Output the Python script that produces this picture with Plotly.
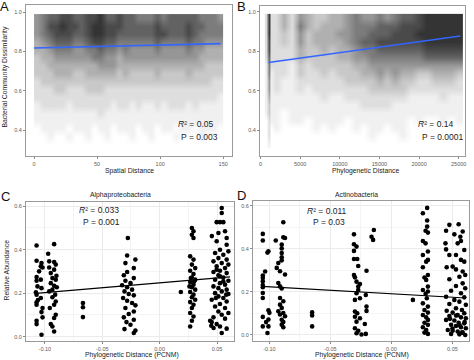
import plotly.graph_objects as go

W, H = 474, 360

# ---------------- Panel A: spatial distance vs dissimilarity (point density, 0-9) -------------
A_x_bins = [2.5, 7.5, 12.5, 17.5, 22.5, 27.5, 32.5, 37.5, 42.5, 47.5,
            52.5, 57.5, 62.5, 67.5, 72.5, 77.5, 82.5, 87.5, 92.5, 97.5,
            102.5, 107.5, 112.5, 117.5, 122.5, 127.5, 132.5, 137.5, 142.5, 147.5]
A_y_bins = [0.97, 0.93, 0.89, 0.85, 0.81, 0.77, 0.73, 0.69, 0.65,
            0.61, 0.57, 0.53, 0.49, 0.45, 0.41, 0.37, 0.33]
A_density = [
    "56778 87788 97787 76667 67777 76665",
    "56889 88789 98887 77778 77778 77666",
    "56788 87789 98877 77778 87778 76666",
    "45677 76678 87766 66667 66667 66555",
    "44566 65566 76656 55556 55556 55444",
    "34455 55556 65545 55555 55555 54444",
    "33444 44444 55544 44444 44444 44333",
    "33344 43344 44434 33334 33334 33333",
    "23333 33333 33333 33333 33333 33322",
    "22233 22233 32222 22222 22222 22222",
    "22222 22222 22222 22222 22222 22221",
    "12222 12222 22122 12112 12221 21111",
    "11111 11111 21111 11111 11111 11111",
    "11111 11111 11111 11111 11111 11111",
    "01111 01110 11011 10110 11011 01110",
    "00100 10010 01000 10010 00100 01000",
    "00000 00000 00000 00000 00000 00000",
]
A_fit_x = [0, 148]
A_fit_y = [0.818, 0.840]

# ---------------- Panel B: phylogenetic distance vs dissimilarity -------------
B_x_bins = [700, 1000, 1300, 2000, 3000, 4000, 5000, 6000, 7000, 8000, 9000, 10000,
            11000, 12000, 13000, 14000, 15000, 16000, 17000, 18000, 19000, 20000,
            21000, 22000, 23000, 24000, 25000]
B_y_bins = A_y_bins
B_density = [
    "292 2425 43344 56556 56778 99999",
    "292 2426 43444 56667 77888 99999",
    "292 2325 34445 56677 78889 99999",
    "282 2325 34444 56778 88888 99999",
    "282 2224 33434 45667 77777 88888",
    "272 2224 33334 45566 66666 77777",
    "162 2213 23333 34455 55555 55555",
    "161 2213 22323 33445 45443 34443",
    "151 2112 22222 33334 34332 23332",
    "151 2112 12222 22233 33322 22222",
    "141 1111 11211 22222 22211 11211",
    "131 1111 11111 11222 21111 11111",
    "131 1011 11111 11111 11111 11111",
    "021 1011 01111 01111 11101 00101",
    "020 1000 01010 01011 01100 00000",
    "020 0000 00000 00010 00100 00000",
    "010 0000 00000 00000 00000 00000",
]
B_fit_x = [1000, 25200]
B_fit_y = [0.744, 0.878]

# ---------------- Panel C: Alphaproteobacteria -------------
C_x = [
    -0.1072, -0.1072, -0.1029, -0.1035, -0.1020, -0.1072, -0.1035, -0.1072, -0.1064, -0.1029,
    -0.1078, -0.1072, -0.1035, -0.1072, -0.1072, -0.1020, -0.1029, -0.1020, -0.1072, -0.1072,
    -0.1029, -0.1050, -0.1060,
    -0.0919, -0.0971, -0.0962, -0.0919, -0.0905, -0.0962, -0.0919, -0.0948, -0.0899, -0.0934,
    -0.0905, -0.0948, -0.0919, -0.0896, -0.0934, -0.0962, -0.0910, -0.0934, -0.0905, -0.0919,
    -0.0957, -0.0905, -0.0919, -0.0948, -0.0934, -0.0919,
    -0.0668, -0.0668, -0.0668,
    -0.0277, -0.0283, -0.0211, -0.0298, -0.0225, -0.0283, -0.0312, -0.0225, -0.0298, -0.0254,
    -0.0327, -0.0283, -0.0240, -0.0306, -0.0269, -0.0225, -0.0318, -0.0283, -0.0240, -0.0211,
    -0.0298, -0.0225, -0.0269, -0.0312, -0.0225, -0.0289, -0.0254, -0.0306, -0.0211, -0.0225,
    0.0185,
    0.0281, 0.0295, 0.0281, 0.0295, 0.0266, 0.0295, 0.0281, 0.0310, 0.0266, 0.0295,
    0.0281, 0.0310, 0.0266, 0.0295, 0.0281, 0.0310, 0.0266, 0.0295, 0.0281, 0.0310,
    0.0266, 0.0295, 0.0281, 0.0266, 0.0295, 0.0281, 0.0266, 0.0272, 0.0301, 0.0260,
    0.0541, 0.0541, 0.0497, 0.0526, 0.0555, 0.0570, 0.0512, 0.0584, 0.0497, 0.0584,
    0.0526, 0.0599, 0.0483, 0.0555, 0.0512, 0.0584, 0.0469, 0.0541, 0.0599, 0.0497,
    0.0570, 0.0526, 0.0469, 0.0584, 0.0512, 0.0555, 0.0483, 0.0599, 0.0526, 0.0570,
    0.0469, 0.0512, 0.0584, 0.0541, 0.0483, 0.0599, 0.0512, 0.0555, 0.0454, 0.0584,
    0.0526, 0.0483, 0.0570, 0.0512, 0.0599, 0.0541, 0.0469, 0.0570, 0.0454, 0.0497,
    0.0526, 0.0584, 0.0440, 0.0541, 0.0497, 0.0555, 0.0526, 0.0580, 0.0490, 0.0455,
    0.0450, 0.0470,
]
C_y = [
    0.419, 0.349, 0.338, 0.323, 0.318, 0.274, 0.262, 0.257, 0.231, 0.223,
    0.204, 0.193, 0.178, 0.158, 0.147, 0.132, 0.113, 0.089, 0.073, 0.058,
    0.009, 0.300, 0.168,
    0.425, 0.381, 0.346, 0.343, 0.331, 0.318, 0.308, 0.292, 0.280, 0.269,
    0.262, 0.246, 0.234, 0.227, 0.216, 0.208, 0.193, 0.181, 0.162, 0.147,
    0.132, 0.101, 0.086, 0.058, 0.047, 0.024,
    0.155, 0.135, 0.090,
    0.453, 0.373, 0.354, 0.338, 0.315, 0.297, 0.282, 0.269, 0.257, 0.246,
    0.236, 0.227, 0.216, 0.208, 0.196, 0.190, 0.178, 0.165, 0.155, 0.144,
    0.132, 0.116, 0.104, 0.089, 0.078, 0.067, 0.055, 0.035, 0.028, 0.017,
    0.205,
    0.499, 0.484, 0.468, 0.453, 0.369, 0.354, 0.331, 0.315, 0.303, 0.288,
    0.272, 0.262, 0.251, 0.239, 0.227, 0.216, 0.205, 0.193, 0.181, 0.170,
    0.159, 0.147, 0.132, 0.109, 0.093, 0.073, 0.047, 0.269, 0.254, 0.231,
    0.591, 0.568, 0.526, 0.526, 0.526, 0.484, 0.476, 0.453, 0.438, 0.422,
    0.399, 0.392, 0.384, 0.376, 0.361, 0.354, 0.346, 0.338, 0.331, 0.323,
    0.315, 0.303, 0.297, 0.292, 0.282, 0.272, 0.262, 0.257, 0.246, 0.239,
    0.231, 0.223, 0.216, 0.208, 0.200, 0.196, 0.185, 0.178, 0.170, 0.162,
    0.150, 0.139, 0.132, 0.116, 0.109, 0.101, 0.089, 0.083, 0.067, 0.058,
    0.047, 0.037, 0.073, 0.017, 0.308, 0.254, 0.277, 0.193, 0.178, 0.462,
    0.050, 0.040,
]
C_fit_x = [-0.1078, 0.0613]
C_fit_y = [0.199, 0.275]

# ---------------- Panel D: Actinobacteria -------------
D_x = [
    -0.1054, -0.1054, -0.1008, -0.1016, -0.1054, -0.1054, -0.1054, -0.1054, -0.1054, -0.1054,
    -0.1054, -0.1008, -0.1000, -0.1054, -0.1008, -0.1054, -0.1008, -0.1016, -0.1027, -0.1035,
    -0.0886, -0.0886, -0.0872, -0.0948, -0.0899, -0.0899, -0.0899, -0.0899, -0.0899, -0.0927,
    -0.0940, -0.0913, -0.0872, -0.0927, -0.0913, -0.0899, -0.0913, -0.0886, -0.0913, -0.0899,
    -0.0927, -0.0886, -0.0913, -0.0872, -0.0899, -0.0886, -0.0899, -0.0886,
    -0.0650, -0.0650, -0.0650,
    -0.0307, -0.0144, -0.0163, -0.0150, -0.0307, -0.0286, -0.0307, -0.0307, -0.0280, -0.0272,
    -0.0204, -0.0307, -0.0299, -0.0286, -0.0258, -0.0272, -0.0272, -0.0286, -0.0210, -0.0258,
    -0.0299, -0.0204, -0.0299, -0.0280, -0.0299, -0.0258, -0.0286, -0.0218, -0.0299, -0.0272,
    -0.0286, -0.0210, -0.0245, -0.0204,
    0.0176,
    0.0293, 0.0258, 0.0293, 0.0293, 0.0280, 0.0299, 0.0258, 0.0280, 0.0299, 0.0258,
    0.0299, 0.0285, 0.0258, 0.0299, 0.0271, 0.0285, 0.0299, 0.0258, 0.0299, 0.0280,
    0.0290, 0.0258, 0.0299, 0.0271, 0.0299, 0.0258, 0.0285, 0.0299, 0.0271, 0.0299,
    0.0258, 0.0285, 0.0271, 0.0299,
    0.0475, 0.0551, 0.0448, 0.0584, 0.0516, 0.0565, 0.0570, 0.0543, 0.0443, 0.0448,
    0.0597, 0.0475, 0.0529, 0.0570, 0.0597, 0.0453, 0.0502, 0.0529, 0.0584, 0.0605,
    0.0557, 0.0475, 0.0584, 0.0529, 0.0605, 0.0489, 0.0570, 0.0448, 0.0597, 0.0516,
    0.0557, 0.0475, 0.0610, 0.0529, 0.0578, 0.0453, 0.0502, 0.0597, 0.0543, 0.0475,
    0.0570, 0.0610, 0.0448, 0.0516, 0.0551, 0.0597, 0.0489, 0.0529, 0.0570, 0.0610,
    0.0462, 0.0502, 0.0543, 0.0584, 0.0489, 0.0557, 0.0605, 0.0500, 0.0560, 0.0600,
    0.0480, 0.0530, 0.0580,
]
D_y = [
    0.470, 0.439, 0.389, 0.383, 0.276, 0.265, 0.250, 0.232, 0.222, 0.195,
    0.172, 0.115, 0.103, 0.084, 0.072, 0.040, 0.040, 0.009, 0.060, 0.295,
    0.524, 0.454, 0.451, 0.439, 0.420, 0.402, 0.381, 0.361, 0.347, 0.335,
    0.312, 0.296, 0.281, 0.242, 0.226, 0.216, 0.172, 0.157, 0.141, 0.126,
    0.110, 0.102, 0.095, 0.087, 0.071, 0.060, 0.048, 0.036,
    0.105, 0.091, 0.040,
    0.468, 0.488, 0.457, 0.442, 0.422, 0.411, 0.391, 0.353, 0.353, 0.321,
    0.299, 0.279, 0.268, 0.248, 0.237, 0.225, 0.209, 0.194, 0.186, 0.171,
    0.163, 0.132, 0.109, 0.101, 0.085, 0.078, 0.062, 0.051, 0.031, 0.020,
    0.008, 0.005, 0.002, 0.112,
    0.163,
    0.591, 0.566, 0.532, 0.504, 0.485, 0.476, 0.437, 0.426, 0.388, 0.372,
    0.349, 0.341, 0.315, 0.279, 0.267, 0.256, 0.225, 0.209, 0.202, 0.191,
    0.171, 0.147, 0.132, 0.116, 0.104, 0.093, 0.082, 0.070, 0.057, 0.047,
    0.036, 0.023, 0.011, 0.005,
    0.512, 0.515, 0.485, 0.481, 0.468, 0.457, 0.437, 0.426, 0.426, 0.398,
    0.395, 0.372, 0.372, 0.349, 0.341, 0.315, 0.318, 0.305, 0.295, 0.279,
    0.271, 0.259, 0.240, 0.228, 0.217, 0.206, 0.194, 0.178, 0.175, 0.163,
    0.155, 0.144, 0.140, 0.124, 0.116, 0.113, 0.104, 0.101, 0.093, 0.088,
    0.082, 0.078, 0.070, 0.067, 0.057, 0.054, 0.047, 0.042, 0.036, 0.031,
    0.023, 0.020, 0.016, 0.011, 0.005, 0.003, 0.000, 0.030, 0.045, 0.060,
    0.075, 0.090, 0.012,
]
D_fit_x = [-0.106, 0.061]
D_fit_y = [0.226, 0.172]

# ---------------- styling ----------------
FONT = "Liberation Sans, Arial, sans-serif"
grey_levels = [255, 240, 222, 200, 176, 150, 124, 98, 74, 52]
density_scale = [[i / 9, "rgb(%d,%d,%d)" % (g, g, g)] for i, g in enumerate(grey_levels)]


def grid_of(rows):
    return [[int(c) for c in r.replace(" ", "")] for r in rows]


fig = go.Figure()

fig.add_trace(go.Heatmap(x=A_x_bins, y=A_y_bins, z=grid_of(A_density), zmin=0, zmax=9,
                         colorscale=density_scale, zsmooth="best", showscale=False,
                         hoverinfo="skip", xaxis="x", yaxis="y"))
fig.add_trace(go.Scatter(x=A_fit_x, y=A_fit_y, mode="lines",
                         line=dict(color="#3366FF", width=1.6), xaxis="x", yaxis="y"))

fig.add_trace(go.Heatmap(x=B_x_bins, y=B_y_bins, z=grid_of(B_density), zmin=0, zmax=9,
                         colorscale=density_scale, zsmooth="best", showscale=False,
                         hoverinfo="skip", xaxis="x2", yaxis="y2"))
fig.add_trace(go.Scatter(x=B_fit_x, y=B_fit_y, mode="lines",
                         line=dict(color="#3366FF", width=1.6), xaxis="x2", yaxis="y2"))

fig.add_trace(go.Scatter(x=C_x, y=C_y, mode="markers",
                         marker=dict(color="black", size=4.6, line=dict(width=0)),
                         xaxis="x3", yaxis="y3"))
fig.add_trace(go.Scatter(x=C_fit_x, y=C_fit_y, mode="lines",
                         line=dict(color="black", width=1.2), xaxis="x3", yaxis="y3"))

fig.add_trace(go.Scatter(x=D_x, y=D_y, mode="markers",
                         marker=dict(color="black", size=4.6, line=dict(width=0)),
                         xaxis="x4", yaxis="y4"))
fig.add_trace(go.Scatter(x=D_fit_x, y=D_fit_y, mode="lines",
                         line=dict(color="black", width=1.2), xaxis="x4", yaxis="y4"))


def px_x(v):
    return v / W


def px_y(v):
    return 1 - v / H


def axis(domain, rng, anchor, tickvals, ticktext, grid=False, minor_vals=None):
    d = dict(domain=domain, range=rng, anchor=anchor, tickmode="array",
             tickvals=tickvals, ticktext=ticktext, showline=True, mirror=True,
             linecolor="#9a9a9a", linewidth=1, zeroline=False, ticks="outside",
             ticklen=2, tickwidth=0.8, tickcolor="#8a8a8a",
             tickfont=dict(size=5.5, color="#5a5a5a", family=FONT),
             showgrid=grid, gridcolor="#ebebeb", gridwidth=0.8)
    if grid and minor_vals is not None:
        d["minor"] = dict(tickmode="array", tickvals=minor_vals, showgrid=True,
                          gridcolor="#f4f4f4", gridwidth=0.6, ticks="")
    return d


y_top_vals = [0.4, 0.6, 0.8, 1.0]
y_top_text = ["0.4", "0.6", "0.8", "1.0"]
x_pc_vals = [-0.10, -0.05, 0.00, 0.05]
x_pc_text = ["-0.10", "-0.05", "0.00", "0.05"]
y_ab_vals = [0.0, 0.2, 0.4, 0.6]
y_ab_text = ["0.0", "0.2", "0.4", "0.6"]

fig.update_layout(
    width=W, height=H, margin=dict(l=0, r=0, t=0, b=0),
    paper_bgcolor="white", plot_bgcolor="white", showlegend=False,
    font=dict(family=FONT, color="#222"),
    xaxis=axis([px_x(25), px_x(232)], [-6.5, 157], "y", [0, 50, 100, 150],
               ["0", "50", "100", "150"]),
    yaxis=axis([px_y(156), px_y(5)], [0.27, 1.036], "x", y_top_vals, y_top_text),
    xaxis2=axis([px_x(260), px_x(466)], [-80, 25800], "y2",
                [0, 5000, 10000, 15000, 20000, 25000],
                ["0", "5000", "10000", "15000", "20000", "25000"]),
    yaxis2=axis([px_y(156), px_y(6)], [0.27, 1.03], "x2", y_top_vals, y_top_text),
    xaxis3=axis([px_x(25), px_x(234)], [-0.1165, 0.0648], "y3", x_pc_vals, x_pc_text,
                grid=True, minor_vals=[-0.075, -0.025, 0.025]),
    yaxis3=axis([px_y(341), px_y(202)], [-0.0197, 0.6185], "x3", y_ab_vals, y_ab_text,
                grid=True, minor_vals=[0.1, 0.3, 0.5]),
    xaxis4=axis([px_x(253), px_x(470)], [-0.1135, 0.0636], "y4", x_pc_vals, x_pc_text,
                grid=True, minor_vals=[-0.075, -0.025, 0.025]),
    yaxis4=axis([px_y(341), px_y(201)], [-0.028, 0.623], "x4", y_ab_vals, y_ab_text,
                grid=True, minor_vals=[0.1, 0.3, 0.5]),
)


def note(text, x, y, size, rot=0, color="#222"):
    fig.add_annotation(text=text, x=px_x(x), y=px_y(y), xref="paper", yref="paper",
                       showarrow=False, xanchor="center", yanchor="middle",
                       textangle=rot, font=dict(size=size, family=FONT, color=color))


# panel letters
note("A", 4, 6.5, 13, color="#111")
note("B", 242, 6.5, 13, color="#111")
note("C", 5, 196.5, 13, color="#111")
note("D", 242, 195, 13, color="#111")

# axis titles
note("Bacterial Community Dissimilarity", 4.5, 77, 6.8, rot=-90)
note("Spatial Distance", 129, 170.5, 6.8)
note("Phylogenetic Distance", 366, 170.5, 6.8)
note("Relative Abundance", 5.5, 270, 6.8, rot=-90)
note("Phylogenetic Distance (PCNM)", 132, 355, 6.8)
note("Phylogenetic Distance (PCNM)", 363, 355, 6.8)

# panel titles
note("Alphaproteobacteria", 120, 194.7, 6.8)
note("Actinobacteria", 357, 194.7, 6.8)

# statistics
note("<i>R</i>² = 0.05", 195, 123.5, 8.5)
note("P = 0.003", 199.5, 136.5, 8.5)
note("<i>R</i>² = 0.14", 436.5, 123.7, 8.5)
note("P = 0.0001", 443, 137.3, 8.5)
note("<i>R</i>² = 0.033", 98.7, 210, 8.5)
note("P = 0.001", 100.5, 222.3, 8.5)
note("<i>R</i>² = 0.011", 327.8, 210.7, 8.5)
note("P = 0.03", 329.2, 222.3, 8.5)

fig.write_html("out.html", config={"displayModeBar": False},
               post_script="document.body.style.margin='0';document.body.style.padding='0';")
